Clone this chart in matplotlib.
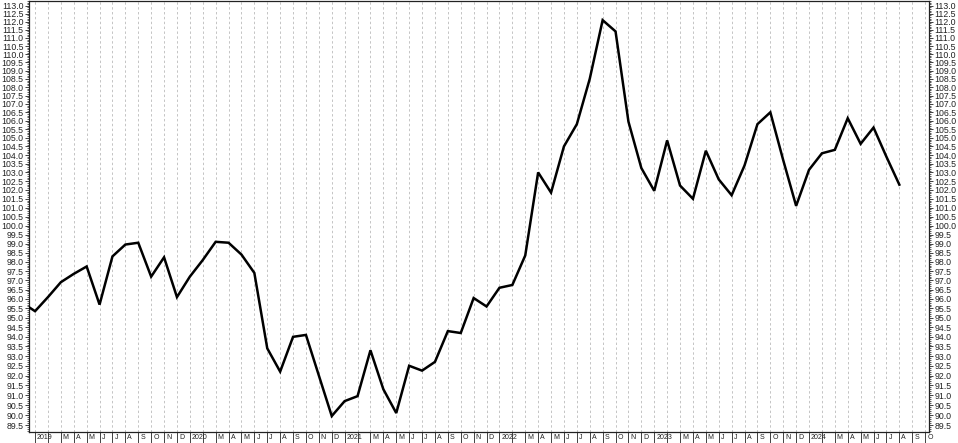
import matplotlib
matplotlib.use('Agg')

import matplotlib.pyplot as plt
import matplotlib.transforms as mtransforms
from matplotlib.ticker import MultipleLocator, FormatStrFormatter, NullFormatter
import numpy as np

plt.rcParams['font.family'] = ['Liberation Sans', 'DejaVu Sans']

# monthly index, first value is Dec 2018 (partly cut off at the left edge)
start_year = 2019
month_letters = ["J", "F", "M", "A", "M", "J", "J", "A", "S", "O", "N", "D"]
values = [
    95.8,                                                      # Dec 2018
    95.35, 96.1, 96.9, 97.35, 97.75, 95.7, 98.3, 98.95, 99.05, 97.2, 98.25, 96.1,    # 2019
    97.2, 98.1, 99.1, 99.05, 98.4, 97.4, 93.4, 92.2, 94.0, 94.1, 92.0, 89.95,        # 2020
    90.7, 90.95, 93.3, 91.3, 90.1, 92.5, 92.25, 92.7, 94.3, 94.2, 96.05, 95.6,       # 2021
    96.6, 96.75, 98.35, 103.0, 101.85, 104.5, 105.8, 108.5, 112.1, 111.4, 105.95, 103.25,  # 2022
    101.95, 104.85, 102.25, 101.5, 104.25, 102.6, 101.7, 103.4, 105.8, 106.5, 103.7, 101.1,  # 2023
    103.15, 104.1, 104.3, 106.15, 104.65, 105.6, 103.9, 102.3,                       # 2024
]
n_axis_months = 70   # Jan 2019 .. Oct 2024

x = np.arange(-1, len(values) - 1)

fig = plt.figure(figsize=(9.58, 4.43), dpi=100)
ax = fig.add_axes([29 / 958, 11.3 / 443, 900 / 958, 430.7 / 443])

ax.plot(x, values, color="black", lw=1.8, solid_joinstyle="miter", zorder=3)

ax.set_yscale("log")
ax.set_ylim(89.17, 113.3)
ax.set_xlim(-0.47, 69.3)

# y axis: labels every 0.5 on both sides
ax.yaxis.set_major_locator(MultipleLocator(0.5))
ax.yaxis.set_minor_locator(MultipleLocator(0.1))
ax.yaxis.set_major_formatter(FormatStrFormatter("%.1f"))
ax.yaxis.set_minor_formatter(NullFormatter())
ax.tick_params(axis="y", which="both", left=True, right=True,
               labelleft=True, labelright=True, direction="out",
               labelsize=6.3, pad=1, colors="#222222")
ax.tick_params(axis="y", which="major", length=3, width=0.6)
ax.tick_params(axis="y", which="minor", length=1.5, width=0.5)

# x axis: one tick per month, label to the right of the tick
months = np.arange(n_axis_months)
labels = []
for m in months:
    if m % 12 == 0:
        labels.append(str(start_year + m // 12))
    elif m % 12 == 1:
        labels.append("")
    else:
        labels.append(month_letters[m % 12])
ax.set_xticks(months)
ax.set_xticklabels(labels)
ax.xaxis.set_minor_locator(plt.NullLocator())
ax.tick_params(axis="x", which="major", direction="out", length=8,
               width=0.6, labelsize=5, pad=-6.5, colors="#222222")
offset = mtransforms.ScaledTranslation(2 / 100, 0, fig.dpi_scale_trans)
for lbl in ax.get_xticklabels():
    lbl.set_horizontalalignment("left")
    lbl.set_verticalalignment("top")
    lbl.set_transform(lbl.get_transform() + offset)

ax.grid(axis="x", which="major", color="#c4c4c4", lw=0.7, linestyle=(0, (2.5, 2.5)))
ax.grid(axis="y", which="both", visible=False)

for side in ["left", "right", "top", "bottom"]:
    ax.spines[side].set_linewidth(0.9)
    ax.spines[side].set_color("#222222")

plt.savefig("out.png", dpi=100)
